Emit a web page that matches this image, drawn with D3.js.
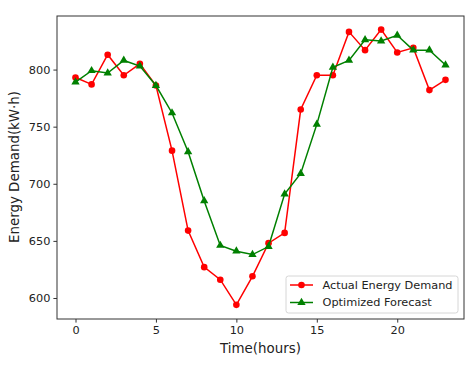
<!DOCTYPE html>
<html><head><meta charset="utf-8">
<script src="https://cdn.jsdelivr.net/npm/d3@7"></script>
<style>body{margin:0;background:#fff}svg{display:block}text{font-family:"DejaVu Sans",sans-serif;fill:#222}</style>
</head><body><svg id="c" width="474" height="366"></svg>
<script>
const hours = d3.range(0,24);
const actual = [793,787,813,795,805,786,729,659,627,616,594,619,648,657,765,795,795,833,817,835,815,819,782,791];
const forecast = [789,799,797,808,803,786,762,728,685,646,641,638,645,691,709,752,802,808,826,825,830,817,817,804];
const xTicks = [0,5,10,15,20];
const yTicks = [600,650,700,750,800];
const seriesNames = ["Actual Energy Demand","Optimized Forecast"];

const svg = d3.select("#c");
const L=57,R=464,T=16,B=319;
const x = d3.scaleLinear().domain([-1.15,24.15]).range([L,R]);
const y = d3.scaleLinear().domain([581.6,846.9]).range([B,T]);

const xa = svg.append("g").attr("transform",`translate(0,${B})`)
  .call(d3.axisBottom(x).tickValues(xTicks).tickSize(3.6).tickPadding(3));
const ya = svg.append("g").attr("transform",`translate(${L},0)`)
  .call(d3.axisLeft(y).tickValues(yTicks).tickSize(3.6).tickPadding(3));
[xa,ya].forEach(a=>{a.select(".domain").remove();a.selectAll("line").attr("stroke","#333");a.selectAll("text").attr("font-size","11.3px").attr("font-family","DejaVu Sans").attr("fill","#222");});

const line = d3.line().x((d,i)=>x(hours[i])).y(d=>y(d));
const red="#ff0000", green="#008000";
svg.append("path").datum(actual).attr("d",line).attr("fill","none").attr("stroke",red).attr("stroke-width",1.5);
svg.append("g").selectAll("circle").data(actual).join("circle")
  .attr("cx",(d,i)=>x(hours[i])).attr("cy",d=>y(d)).attr("r",3.3).attr("fill",red);
svg.append("path").datum(forecast).attr("d",line).attr("fill","none").attr("stroke",green).attr("stroke-width",1.5);
const tri = d3.symbol().type(d3.symbolTriangle).size(30);
svg.append("g").selectAll("path").data(forecast).join("path")
  .attr("transform",(d,i)=>`translate(${x(hours[i])},${y(d)})`).attr("d",tri).attr("fill",green);

svg.append("rect").attr("x",L).attr("y",T).attr("width",R-L).attr("height",B-T)
  .attr("fill","none").attr("stroke","#333").attr("stroke-width",1);

svg.append("text").attr("x",(L+R)/2).attr("y",353).attr("text-anchor","middle").attr("font-size","13.4px").text("Time(hours)");
svg.append("text").attr("transform","translate(19,167) rotate(-90)").attr("text-anchor","middle").attr("font-size","13.4px").text("Energy Demand(kW·h)");

const lg = svg.append("g");
lg.append("rect").attr("x",286).attr("y",276).attr("width",172).attr("height",37).attr("rx",2.5)
  .attr("fill","#fff").attr("fill-opacity",0.8).attr("stroke","#ccc").attr("stroke-width",0.8);
const rows=[{n:seriesNames[0],c:red,m:"c",yy:285},{n:seriesNames[1],c:green,m:"t",yy:302.5}];
rows.forEach(r=>{
  lg.append("line").attr("x1",290).attr("x2",313).attr("y1",r.yy).attr("y2",r.yy).attr("stroke",r.c).attr("stroke-width",1.5);
  if(r.m==="c") lg.append("circle").attr("cx",301.5).attr("cy",r.yy).attr("r",3.3).attr("fill",r.c);
  else lg.append("path").attr("transform",`translate(301.5,${r.yy})`).attr("d",tri).attr("fill",r.c);
  lg.append("text").attr("x",322.5).attr("y",r.yy).attr("dy","0.35em").attr("font-size","11.3px").text(r.n);
});
</script></body></html>
